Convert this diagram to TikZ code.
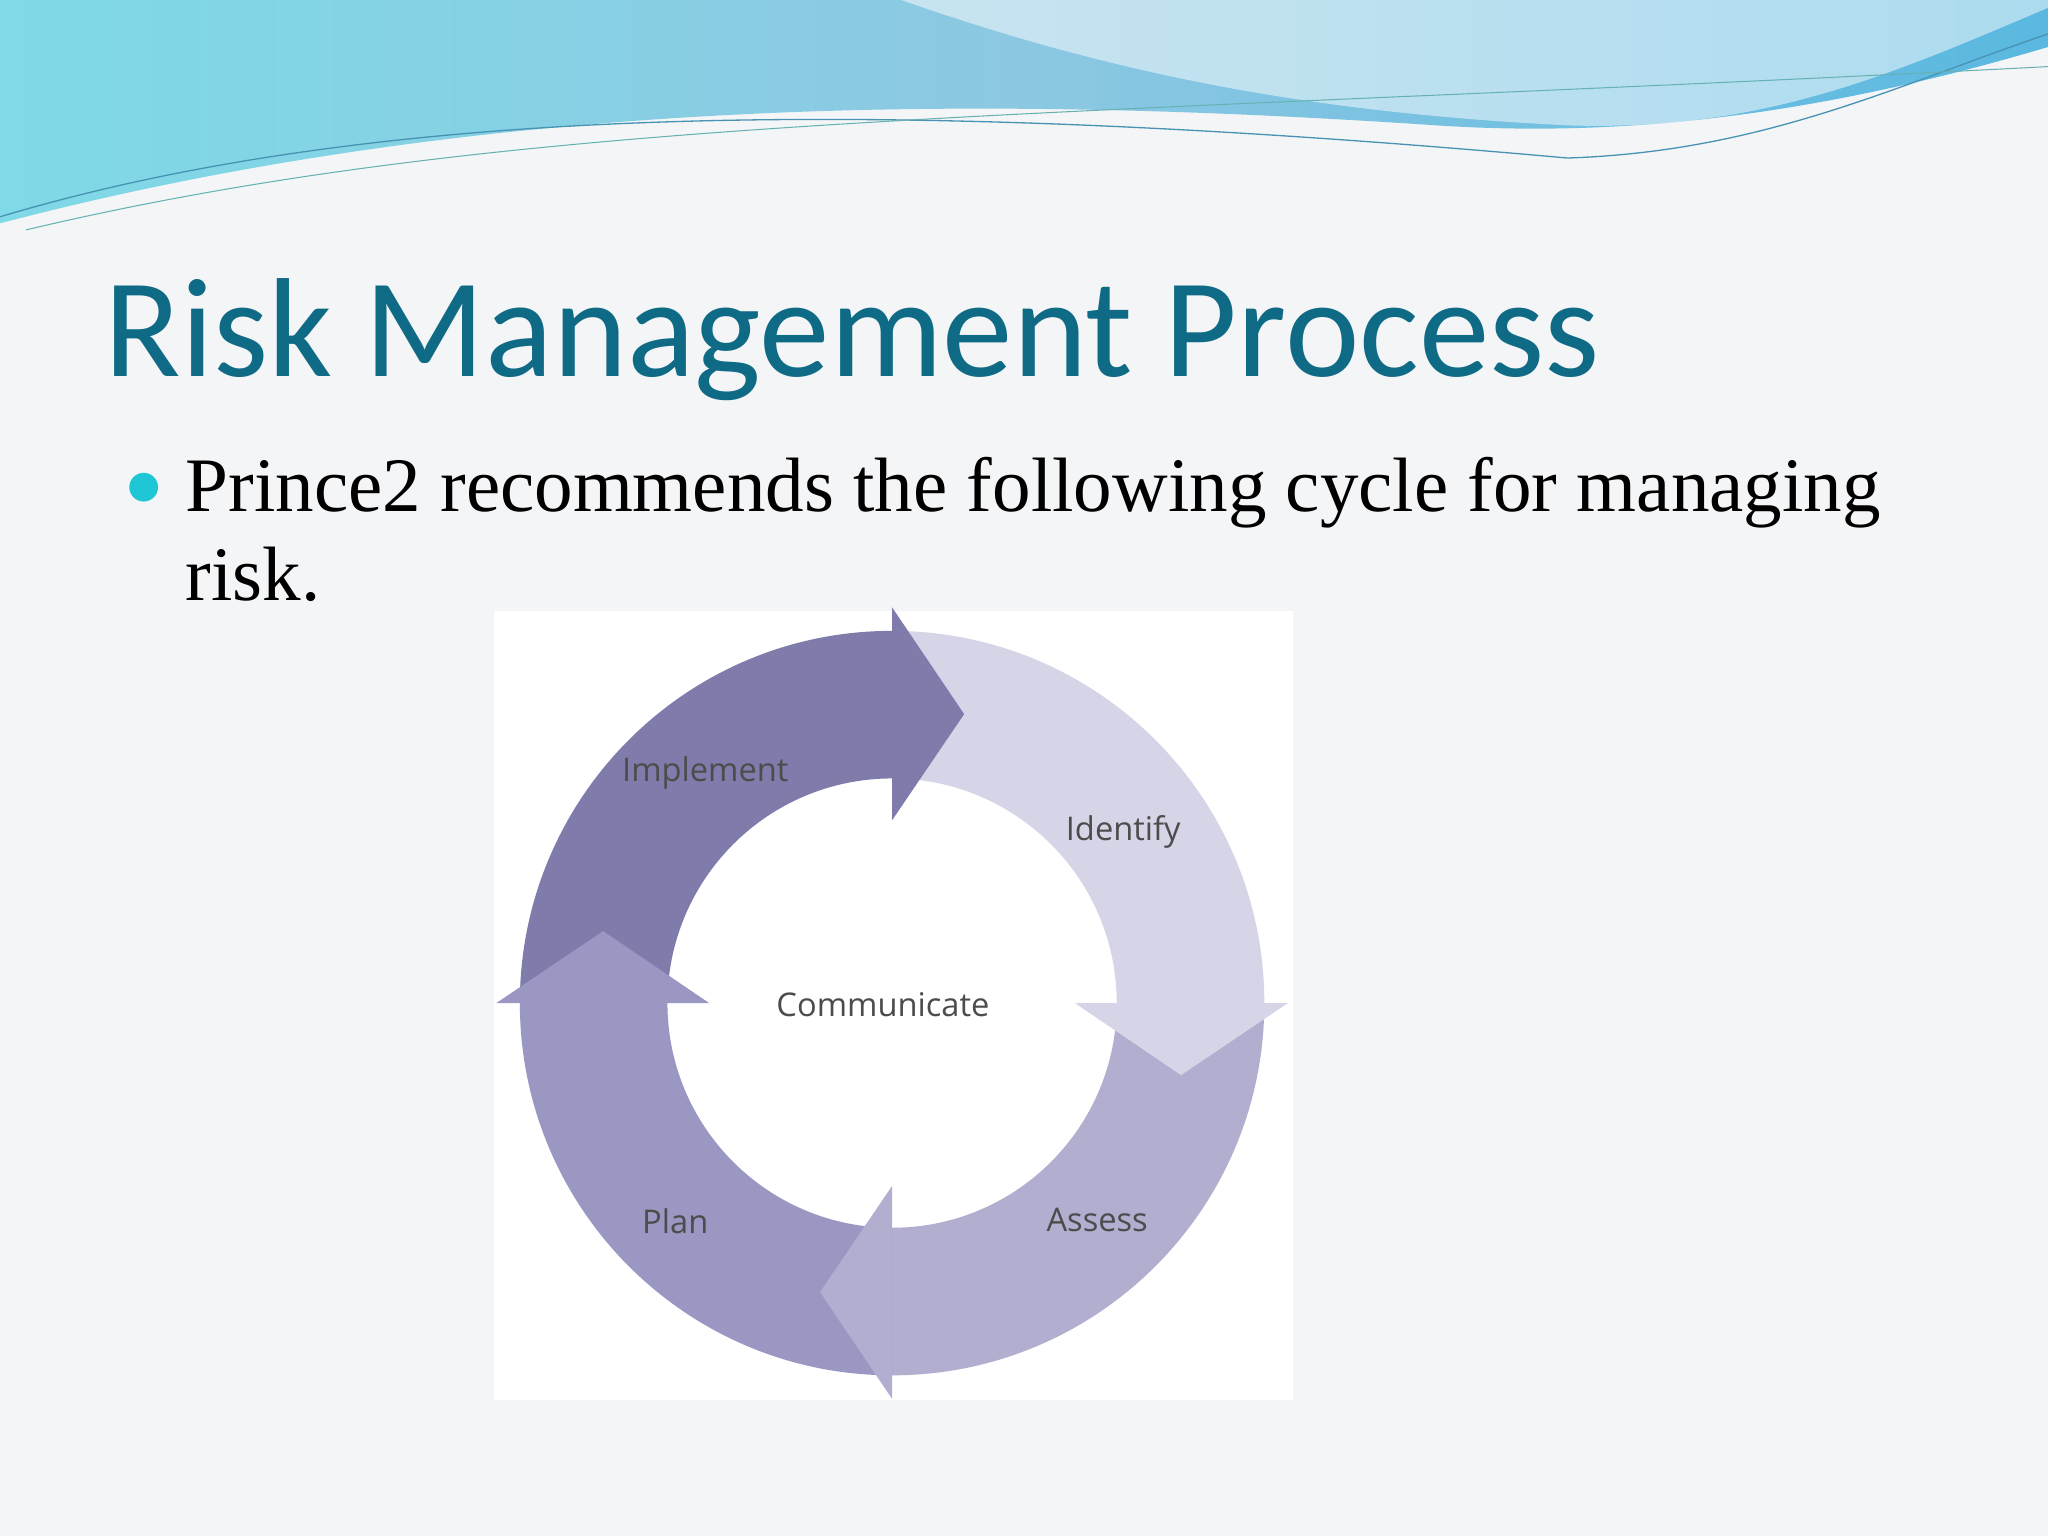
\documentclass[tikz,border=0pt]{standalone}
\usepackage{fontspec}
\setmainfont{Liberation Serif}
\newfontfamily\titlefont{Carlito}
\newfontfamily\labfont{Open Sans}
\definecolor{bg}{HTML}{F4F5F7}
\definecolor{titleblue}{HTML}{0F6A85}
\definecolor{cImpl}{HTML}{7F7BAA}
\definecolor{cIdent}{HTML}{D6D4E7}
\definecolor{cAssess}{HTML}{B1AED0}
\definecolor{cPlan}{HTML}{9B97C3}
\definecolor{bul}{HTML}{1FC6D6}
\definecolor{waveL}{HTML}{7FD9E6}
\definecolor{waveR}{HTML}{5AB8E0}
\definecolor{waveM}{HTML}{8CC8E2}
\tikzset{lab/.style={font=\labfont\fontsize{25}{28}\selectfont, text=black!70},
 body/.style={anchor=base west,font=\fontsize{59}{68}\selectfont,inner sep=0}}
\begin{document}
\begin{tikzpicture}[x=1pt,y=1pt]
\useasboundingbox (0,0) rectangle (1568,1176);
\fill[bg] (0,0) rectangle (1568,1176);
% waves
\shade[left color=waveL, right color=waveR, middle color=waveM]
 (0,1176) -- (1568,1176) -- (1568,1140) .. controls (1400,1090) and (1250,1070) .. (1100,1080)
 .. controls (800,1100) and (400,1110) .. (0,1005) -- cycle;
\fill[white,opacity=0.5] (690,1176) .. controls (850,1120) and (1000,1090) .. (1200,1080)
 .. controls (1350,1075) and (1450,1120) .. (1568,1170) -- (1568,1176) -- cycle;
\draw[waveR!80!black,line width=1] (0,1010) .. controls (300,1100) and (700,1100) .. (1200,1055) .. controls (1350,1060) and (1450,1110) .. (1568,1150);
\draw[teal!60,line width=0.8] (20,1000) .. controls (400,1090) and (800,1085) .. (1568,1125);
% title and text
\node[anchor=base west,text=titleblue,font=\titlefont\fontsize{108}{112}\selectfont,inner sep=0] (title) at (80,888) {Risk Management Process};
\fill[bul] (110,803) circle (11);
\node[body] (txt1) at (142,784) {Prince2 recommends the following cycle for managing};
\node[body] (txt2) at (142,716) {risk.};
% picture area
\fill[white] (378,104) rectangle (990,708);
\begin{scope}[shift={(683,408)}]
\def\Ro{285}\def\Ri{172}
\foreach \s/\e/\c in {180/90/cImpl, 90/0/cIdent, 0/-90/cAssess, -90/-180/cPlan}{
 \fill[\c] (\s:\Ro) arc[start angle=\s,end angle=\e,radius=\Ro] -- (\e:\Ri) arc[start angle=\e,end angle=\s,radius=\Ri] -- cycle;
}
\foreach \e/\c in {90/cImpl, 0/cIdent, -90/cAssess, 180/cPlan}{
 \pgfmathsetmacro{\t}{\e-14}
 \fill[\c] (\e:140) -- (\e:303) -- (\t:228) -- cycle;
}
\end{scope}
\node[lab] (impl) at (540,584) {Implement};
\node[lab] (ident) at (860,539) {Identify};
\node[lab] (comm) at (676,407) {Communicate};
\node[lab] (plan) at (517,241) {Plan};
\node[lab] (assess) at (840,242) {Assess};
\end{tikzpicture}
\end{document}
